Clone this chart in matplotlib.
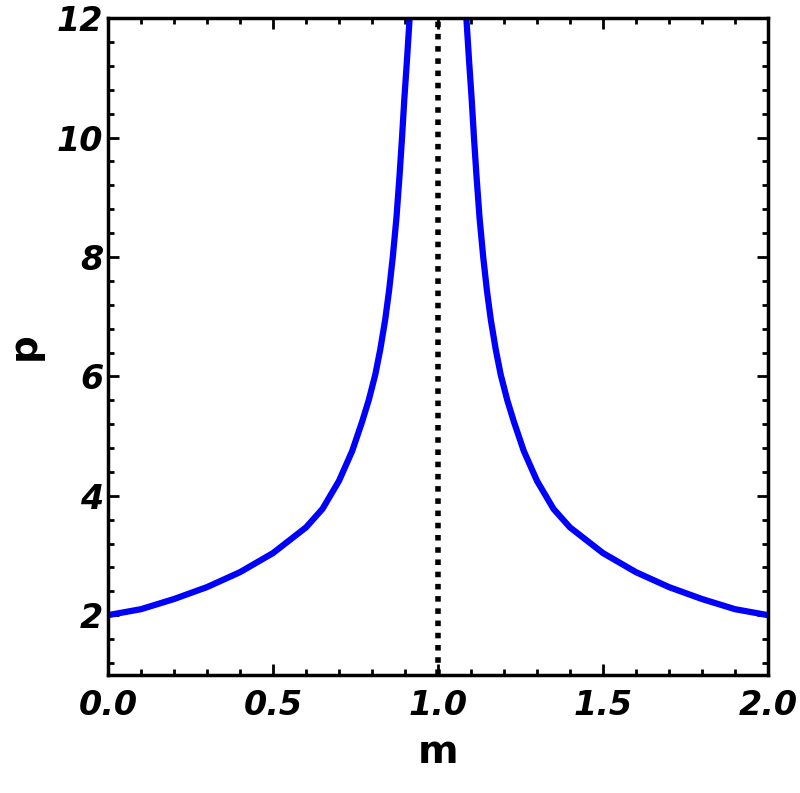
import matplotlib.pyplot as plt
from matplotlib.ticker import MultipleLocator

# values (left branch, right branch mirrors it around m = 1)
m_left = [0.0, 0.1, 0.2, 0.3, 0.4, 0.5, 0.6, 0.65, 0.7, 0.74, 0.77, 0.79, 0.81, 0.825,
          0.84, 0.852, 0.863, 0.874, 0.883, 0.891, 0.898, 0.906, 0.914, 0.92]
p_left = [2.0, 2.1, 2.27, 2.47, 2.72, 3.04, 3.47, 3.78, 4.25, 4.75, 5.24, 5.6, 6.03, 6.45,
          6.95, 7.45, 8.0, 8.65, 9.33, 10.0, 10.65, 11.3, 12.0, 12.6]
m_right = [2.0 - m for m in m_left]
p_right = list(p_left)

fig = plt.figure(figsize=(8, 7.93), dpi=100)
ax = fig.add_axes([0.135, 0.149, 0.825, 0.828])

ax.plot(m_left, p_left, color="#0000ff", lw=4.5, solid_capstyle="butt")
ax.plot(m_right, p_right, color="#0000ff", lw=4.5, solid_capstyle="butt")
ax.axvline(1.0, color="black", lw=4, linestyle=(0, (1, 1.2)))

ax.set_xlim(0, 2)
ax.set_ylim(1, 12)
ax.xaxis.set_major_locator(MultipleLocator(0.5))
ax.xaxis.set_minor_locator(MultipleLocator(0.1))
ax.yaxis.set_major_locator(MultipleLocator(2))
ax.yaxis.set_minor_locator(MultipleLocator(0.4))
ax.xaxis.set_major_formatter(plt.FuncFormatter(lambda v, _: f"{v:.1f}"))

ax.tick_params(which="both", direction="in", top=True, right=True, width=2)
ax.tick_params(which="major", length=8)
ax.tick_params(which="minor", length=4)
ax.tick_params(axis="x", pad=10)
for lab in ax.get_xticklabels() + ax.get_yticklabels():
    lab.set_fontsize(24)
    lab.set_fontweight("bold")
    lab.set_fontstyle("italic")
for s in ax.spines.values():
    s.set_linewidth(2.5)

ax.set_xlabel("m", fontsize=28, fontweight="bold", labelpad=8)
ax.set_ylabel("p", fontsize=28, fontweight="bold", labelpad=10)

fig.savefig("out.png")
